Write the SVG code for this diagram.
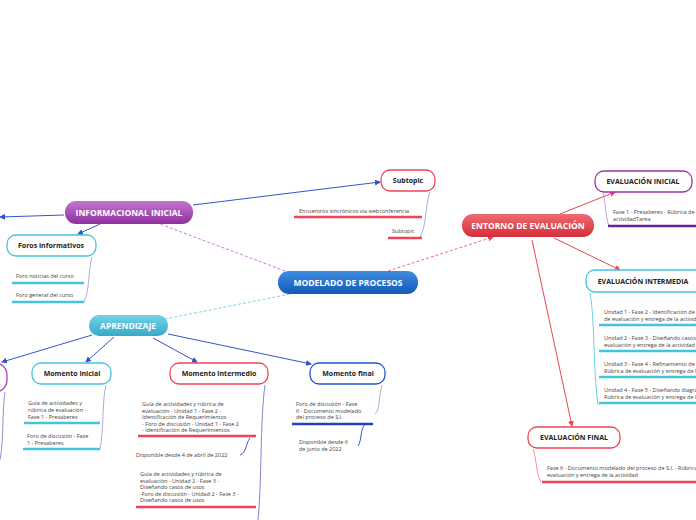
<svg xmlns="http://www.w3.org/2000/svg" width="696" height="520" viewBox="0 0 696 520">
<defs>
<linearGradient id="gB" x1="0" y1="0" x2="0" y2="1"><stop offset="0" stop-color="#3d8de0"/><stop offset="1" stop-color="#1559b8"/></linearGradient>
<linearGradient id="gP" x1="0" y1="0" x2="0" y2="1"><stop offset="0" stop-color="#c476cf"/><stop offset="1" stop-color="#8e2f9e"/></linearGradient>
<linearGradient id="gT" x1="0" y1="0" x2="0" y2="1"><stop offset="0" stop-color="#72d3e6"/><stop offset="1" stop-color="#35aac7"/></linearGradient>
<linearGradient id="gR" x1="0" y1="0" x2="0" y2="1"><stop offset="0" stop-color="#f06a72"/><stop offset="1" stop-color="#d42f3a"/></linearGradient>
<marker id="aB" markerWidth="6" markerHeight="6" refX="5" refY="3" orient="auto"><path d="M0,0 L6,3 L0,6 z" fill="#3355cc"/></marker>
<marker id="aR" markerWidth="6" markerHeight="6" refX="5" refY="3" orient="auto"><path d="M0,0 L6,3 L0,6 z" fill="#ee4455"/></marker>
</defs>
<style>
text{font-family:"Open Sans","DejaVu Sans",sans-serif;}
.m{font-size:8.5px;font-weight:bold;fill:#fff;text-anchor:middle;}
.s{font-size:7px;font-weight:bold;fill:#222;text-anchor:middle;}
.l{font-size:5.5px;fill:#444;}
.cb{stroke:#3355cc;stroke-width:1;fill:none;}
.cr{stroke:#ee4455;stroke-width:1;fill:none;}
</style>
<rect width="696" height="520" fill="#fff"/>
<g id="connectors">
<path d="M285,271 L160,224" stroke="#cc77dd" stroke-dasharray="3,2" fill="none"/>
<path d="M290,294 L165,319" stroke="#7fd0e8" stroke-dasharray="3,2" fill="none"/>
<path d="M388,271 L493,237" stroke="#f07080" stroke-dasharray="3,2" fill="none" marker-end="url(#aR)"/>
<path class="cb" d="M193,205 L380,182" marker-end="url(#aB)"/>
<path class="cb" d="M64,215 L0,217" marker-end="url(#aB)"/>
<path class="cb" d="M100,224 L78,234" marker-end="url(#aB)"/>
<path class="cb" d="M92,335 L2,362" marker-end="url(#aB)"/>
<path class="cb" d="M114,337 L86,362" marker-end="url(#aB)"/>
<path class="cb" d="M153,338 L197,362" marker-end="url(#aB)"/>
<path class="cb" d="M168,334 L311,364" marker-end="url(#aB)"/>
<path class="cr" d="M560,214 L615,192" marker-end="url(#aR)"/>
<path class="cr" d="M554,238 L620,270" marker-end="url(#aR)"/>
<path class="cr" d="M532,240 L572,426" marker-end="url(#aR)"/>
<path d="M430,192 C425,205 427,225 420,237" stroke="#8888cc" fill="none" stroke-width="0.7"/>
<path d="M92,257 C88,270 90,290 84,302" stroke="#8888cc" fill="none" stroke-width="0.7"/>
<path d="M106,385 C102,400 104,430 100,449" stroke="#8888cc" fill="none" stroke-width="0.7"/>
<path d="M265,385 C260,420 262,480 258,520" stroke="#7777cc" fill="none" stroke-width="0.9"/>
<path d="M250,438 C245,445 247,452 240,455" class="cb"/>
<path d="M382,385 C378,400 380,410 375,414" stroke="#8888cc" fill="none" stroke-width="0.7"/>
<path d="M365,424 C360,430 362,440 358,446" class="cb"/>
<path d="M5,392 C2,410 4,440 0,460" stroke="#7777cc" fill="none" stroke-width="0.8"/>
<path d="M603,193 C606,205 605,215 609,226" stroke="#aa77cc" fill="none" stroke-width="0.7"/>
<path d="M590,293 C595,320 593,370 598,405" stroke="#44c4dd" fill="none" stroke-width="0.8"/>
<path d="M533,449 C537,460 536,475 541,482" stroke="#ee6677" fill="none" stroke-width="0.7"/>
</g>
<g id="n-modelado"><rect x="278" y="271" width="140" height="23" rx="11" fill="url(#gB)"/><text class="m" x="348" y="286">MODELADO DE PROCESOS</text></g>
<g id="n-info"><rect x="65" y="201" width="128" height="23" rx="11" fill="url(#gP)"/><text class="m" x="129" y="216" font-weight="normal">INFORMACIONAL INICIAL</text></g>
<g id="n-aprend"><rect x="89" y="315" width="79" height="21" rx="10" fill="url(#gT)"/><text class="m" x="128" y="329">APRENDIZAJE</text></g>
<g id="n-entorno"><rect x="462" y="214" width="132" height="23" rx="11" fill="url(#gR)"/><text class="m" x="528" y="229">ENTORNO DE EVALUACIÓN</text></g>
<g id="n-subtopic"><rect x="381" y="170" width="54" height="21" rx="9" fill="#fff" stroke="#ee4455" stroke-width="1.3"/><text class="s" x="408" y="183">Subtopic</text>
<text class="l" x="299" y="213">Encuentros sincrónicos vía webconferencia</text><line x1="294" y1="217" x2="422" y2="217" stroke="#ee4455" stroke-width="2.5"/>
<text class="l" x="392" y="233">Subtopic</text><line x1="388" y1="238" x2="422" y2="238" stroke="#ee4455" stroke-width="2.5"/></g>
<g id="n-foros"><rect x="7" y="235" width="89" height="21" rx="9" fill="#fff" stroke="#44c4dd" stroke-width="1.3"/><text class="s" x="51" y="248">Foros informativos</text>
<text class="l" x="16" y="278">Foro noticias del curso</text><line x1="12" y1="283" x2="84" y2="283" stroke="#44c4dd" stroke-width="2.5"/>
<text class="l" x="16" y="297">Foro general del curso</text><line x1="12" y1="302" x2="84" y2="302" stroke="#44c4dd" stroke-width="2.5"/></g>
<g id="n-purple-left"><rect x="-40" y="363" width="47" height="29" rx="12" fill="#fff" stroke="#aa44bb" stroke-width="1.3"/></g>
<g id="n-minicial"><rect x="32" y="363" width="79" height="21" rx="9" fill="#fff" stroke="#44c4dd" stroke-width="1.3"/><text class="s" x="72" y="376">Momento inicial</text>
<text class="l"><tspan x="28" y="405">Guía de actividades y</tspan><tspan x="28" y="412">rúbrica de evaluación -</tspan><tspan x="28" y="419">Fase 1 - Presaberes</tspan></text><line x1="24" y1="423" x2="100" y2="423" stroke="#44c4dd" stroke-width="2.5"/>
<text class="l"><tspan x="27" y="438">Foro de discusión - Fase</tspan><tspan x="27" y="445">1 - Presaberes</tspan></text><line x1="23" y1="449" x2="100" y2="449" stroke="#44c4dd" stroke-width="2.5"/></g>
<g id="n-mintermedio"><rect x="170" y="363" width="98" height="21" rx="9" fill="#fff" stroke="#ee4455" stroke-width="1.3"/><text class="s" x="219" y="376">Momento intermedio</text>
<text class="l"><tspan x="142" y="406">Guía de actividades y rúbrica de</tspan><tspan x="142" y="412.5">evaluación - Unidad 1 - Fase 2 -</tspan><tspan x="142" y="419">Identificación de Requerimientos</tspan><tspan x="142" y="425.5">- Foro de discusión - Unidad 1 - Fase 2</tspan><tspan x="142" y="432">- Identificación de Requerimientos</tspan></text><line x1="138" y1="436" x2="256" y2="436" stroke="#ee4455" stroke-width="2.5"/>
<text class="l" x="136" y="457">Disponible desde 4 de abril de 2022</text>
<text class="l"><tspan x="140" y="476">Guía de actividades y rúbrica de</tspan><tspan x="140" y="482.5">evaluación - Unidad 2 - Fase 3 -</tspan><tspan x="140" y="489">Diseñando casos de usos</tspan><tspan x="140" y="495.5">-Foro de discusión - Unidad 2 - Fase 3 -</tspan><tspan x="140" y="502">Diseñando casos de usos</tspan></text><line x1="136" y1="507" x2="256" y2="507" stroke="#ee4455" stroke-width="2.5"/></g>
<g id="n-mfinal"><rect x="310" y="363" width="75" height="21" rx="9" fill="#fff" stroke="#2255cc" stroke-width="1.3"/><text class="s" x="348" y="376">Momento final</text>
<text class="l"><tspan x="296" y="406">Foro de discusión - Fase</tspan><tspan x="296" y="412.5">6 - Documento modelado</tspan><tspan x="296" y="419">del proceso de S.I.</tspan></text><line x1="292" y1="424" x2="373" y2="424" stroke="#2244bb" stroke-width="2.5"/>
<text class="l"><tspan x="299" y="444">Disponible desde 6</tspan><tspan x="299" y="450.5">de junio de 2022</tspan></text></g>
<g id="n-evinicial"><rect x="595" y="171" width="97" height="21" rx="9" fill="#fff" stroke="#9933aa" stroke-width="1.3"/><text class="s" x="643" y="184">EVALUACIÓN INICIAL</text>
<text class="l"><tspan x="613" y="214">Fase 1 - Presaberes - Rúbrica de evaluación y entrega de la</tspan><tspan x="613" y="220.5">actividadTarea</tspan></text><line x1="608" y1="226" x2="700" y2="226" stroke="#662299" stroke-width="2.5"/></g>
<g id="n-evintermedia"><rect x="586" y="270" width="120" height="22" rx="9" fill="#fff" stroke="#44c4dd" stroke-width="1.3"/><text class="s" x="643" y="284">EVALUACIÓN INTERMEDIA</text>
<text class="l"><tspan x="604" y="314">Unidad 1 - Fase 2 - Identificación de Requerimientos - Rúbrica</tspan><tspan x="604" y="320.5">de evaluación y entrega de la actividad</tspan></text><line x1="599" y1="325" x2="700" y2="325" stroke="#44c4dd" stroke-width="2.5"/>
<text class="l"><tspan x="604" y="340">Unidad 2 - Fase 3 - Diseñando casos de usos - Rúbrica de</tspan><tspan x="604" y="346.5">evaluación y entrega de la actividad</tspan></text><line x1="599" y1="351" x2="700" y2="351" stroke="#44c4dd" stroke-width="2.5"/>
<text class="l"><tspan x="604" y="366">Unidad 3 - Fase 4 - Refinamiento de requerimientos -</tspan><tspan x="604" y="372.5">Rúbrica de evaluación y entrega de la actividad</tspan></text><line x1="599" y1="377" x2="700" y2="377" stroke="#44c4dd" stroke-width="2.5"/>
<text class="l"><tspan x="604" y="392">Unidad 4 - Fase 5 - Diseñando diagramas -</tspan><tspan x="604" y="398.5">Rúbrica de evaluación y entrega de la actividad</tspan></text><line x1="599" y1="403" x2="700" y2="403" stroke="#44c4dd" stroke-width="2.5"/></g>
<g id="n-evfinal"><rect x="528" y="427" width="92" height="21" rx="9" fill="#fff" stroke="#ee4455" stroke-width="1.3"/><text class="s" x="574" y="440">EVALUACIÓN FINAL</text>
<text class="l"><tspan x="547" y="470">Fase 6 - Documento modelado del proceso de S.I. - Rúbrica de</tspan><tspan x="547" y="476.5">evaluación y entrega de la actividad</tspan></text><line x1="542" y1="482" x2="700" y2="482" stroke="#ee4455" stroke-width="2.5"/></g>
</svg>
